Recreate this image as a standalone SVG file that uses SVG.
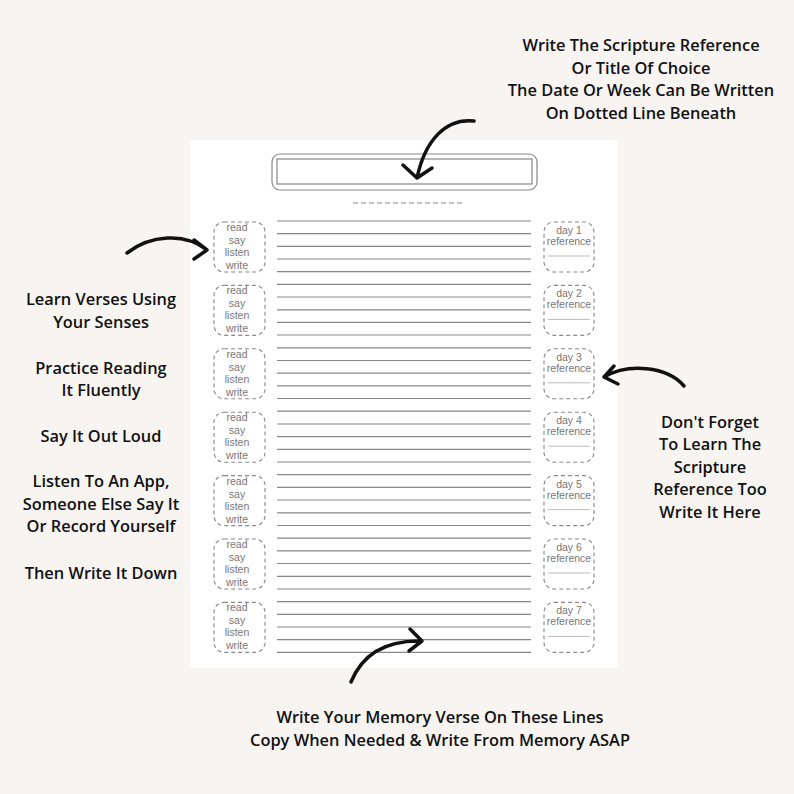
<svg xmlns="http://www.w3.org/2000/svg" width="794" height="794" viewBox="0 0 794 794">
<defs>
<style>
.c{font-family:"Open Sans","Liberation Sans",sans-serif;font-weight:600;font-size:16.4px;fill:#111;text-anchor:middle}
.s{font-family:"Liberation Sans",sans-serif;font-size:10.5px;fill:#777;text-anchor:middle}
.ln{stroke:#888;stroke-width:1.2}
.bx{fill:none;stroke:#888;stroke-width:1.1;stroke-dasharray:4 3}
.ar{fill:none;stroke:#111;stroke-width:3.5;stroke-linecap:round;stroke-linejoin:round}
</style>
<g id="rowL"><rect class="bx" x="214" y="222" width="51" height="50" rx="10"/><text class="s" x="237" y="231">read</text><text class="s" x="237" y="244">say</text><text class="s" x="237" y="256">listen</text><text class="s" x="237" y="269">write</text></g>
</defs>
<rect width="794" height="794" fill="#f7f4f1"/>
<rect id="page" x="190" y="140" width="428" height="528" fill="#fff"/>
<g id="title"><rect x="272" y="154" width="265" height="36" rx="8" fill="none" stroke="#888" stroke-width="1.2"/><rect x="277" y="159" width="255" height="25" fill="none" stroke="#888" stroke-width="1.2"/><line x1="353" y1="203" x2="462" y2="203" stroke="#888" stroke-dasharray="5 3"/></g>
<g id="lines">
<path class="ln" d="M277 221H531M277 233.7H531M277 246.4H531M277 259H531M277 271.7H531M277 284.4H531M277 297H531M277 309.8H531M277 322.4H531M277 335H531M277 347.8H531M277 360.5H531M277 373.2H531M277 385.9H531M277 398.5H531M277 411.2H531M277 424H531M277 436.6H531M277 449.3H531M277 462H531M277 474.7H531M277 487.4H531M277 500H531M277 512.8H531M277 525.5H531M277 538.2H531M277 550.9H531M277 563.5H531M277 576.3H531M277 589H531M277 601.6H531M277 614.3H531M277 627H531M277 639.7H531M277 652.4H531"/>
</g>
<g id="left">
<use href="#rowL"/><use href="#rowL" y="63.4"/><use href="#rowL" y="126.8"/><use href="#rowL" y="190.2"/><use href="#rowL" y="253.6"/><use href="#rowL" y="317"/><use href="#rowL" y="380.4"/>
</g>
<g id="right">
<g><rect class="bx" x="544" y="222" width="50" height="50" rx="10"/><text class="s" x="569" y="234">day 1</text><text class="s" x="569" y="245">reference</text><line x1="548" y1="256" x2="590" y2="256" stroke="#aaa" stroke-width="0.8"/></g>
<g transform="translate(0,63.4)"><rect class="bx" x="544" y="222" width="50" height="50" rx="10"/><text class="s" x="569" y="234">day 2</text><text class="s" x="569" y="245">reference</text><line x1="548" y1="256" x2="590" y2="256" stroke="#aaa" stroke-width="0.8"/></g>
<g transform="translate(0,126.8)"><rect class="bx" x="544" y="222" width="50" height="50" rx="10"/><text class="s" x="569" y="234">day 3</text><text class="s" x="569" y="245">reference</text><line x1="548" y1="256" x2="590" y2="256" stroke="#aaa" stroke-width="0.8"/></g>
<g transform="translate(0,190.2)"><rect class="bx" x="544" y="222" width="50" height="50" rx="10"/><text class="s" x="569" y="234">day 4</text><text class="s" x="569" y="245">reference</text><line x1="548" y1="256" x2="590" y2="256" stroke="#aaa" stroke-width="0.8"/></g>
<g transform="translate(0,253.6)"><rect class="bx" x="544" y="222" width="50" height="50" rx="10"/><text class="s" x="569" y="234">day 5</text><text class="s" x="569" y="245">reference</text><line x1="548" y1="256" x2="590" y2="256" stroke="#aaa" stroke-width="0.8"/></g>
<g transform="translate(0,317)"><rect class="bx" x="544" y="222" width="50" height="50" rx="10"/><text class="s" x="569" y="234">day 6</text><text class="s" x="569" y="245">reference</text><line x1="548" y1="256" x2="590" y2="256" stroke="#aaa" stroke-width="0.8"/></g>
<g transform="translate(0,380.4)"><rect class="bx" x="544" y="222" width="50" height="50" rx="10"/><text class="s" x="569" y="234">day 7</text><text class="s" x="569" y="245">reference</text><line x1="548" y1="256" x2="590" y2="256" stroke="#aaa" stroke-width="0.8"/></g>
</g>
<g id="arrows">
<path class="ar" d="M474 121C446 118 425 140 417 178M403 165L417 178L432 168"/>
<path class="ar" d="M127 253C150 235 185 232 207 250M194 240L207 250L194 259"/>
<path class="ar" d="M684 386C667 366 628 363 604 377M614 366L604 377L618 384"/>
<path class="ar" d="M351 682C362 655 385 640 422 641M410 629L422 641L409 651"/>
</g>
<g id="texts">
<text class="c" x="641" y="51">Write The Scripture Reference</text>
<text class="c" x="641" y="74">Or Title Of Choice</text>
<text class="c" x="641" y="96">The Date Or Week Can Be Written</text>
<text class="c" x="641" y="119">On Dotted Line Beneath</text>
<text class="c" x="101" y="305">Learn Verses Using</text>
<text class="c" x="101" y="328">Your Senses</text>
<text class="c" x="101" y="374">Practice Reading</text>
<text class="c" x="101" y="396">It Fluently</text>
<text class="c" x="101" y="442">Say It Out Loud</text>
<text class="c" x="101" y="487">Listen To An App,</text>
<text class="c" x="101" y="510">Someone Else Say It</text>
<text class="c" x="101" y="532">Or Record Yourself</text>
<text class="c" x="101" y="579">Then Write It Down</text>
<text class="c" x="710" y="428">Don't Forget</text>
<text class="c" x="710" y="450">To Learn The</text>
<text class="c" x="710" y="473">Scripture</text>
<text class="c" x="710" y="495">Reference Too</text>
<text class="c" x="710" y="518">Write It Here</text>
<text class="c" x="440" y="723">Write Your Memory Verse On These Lines</text>
<text class="c" x="440" y="746">Copy When Needed &amp; Write From Memory ASAP</text>
</g>
</svg>
